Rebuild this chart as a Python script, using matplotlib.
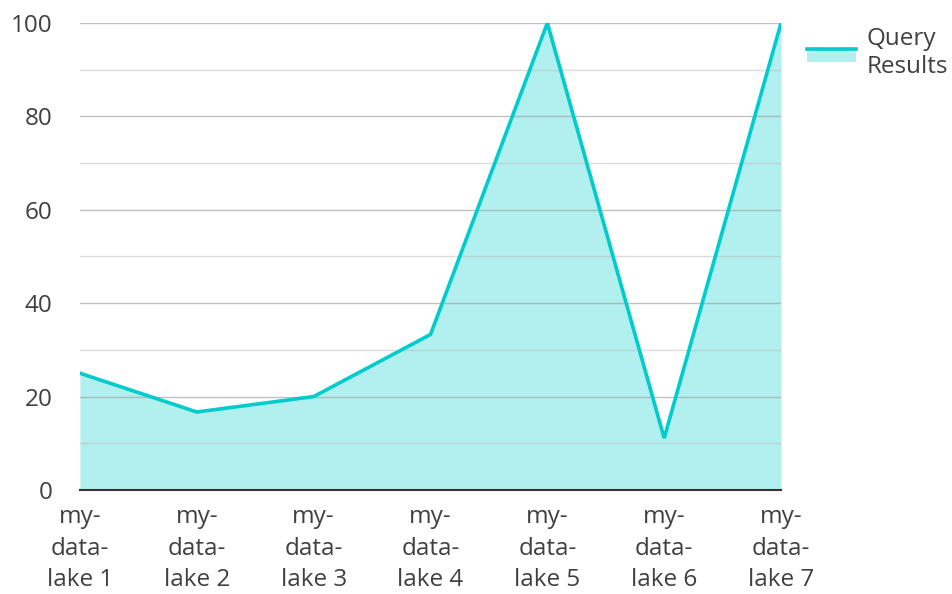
""" query results area chart """

import matplotlib
matplotlib.use("Agg")
import matplotlib.pyplot
import matplotlib.patches
import matplotlib.lines
import matplotlib.legend_handler

CATEGORIES = ["my-\ndata-\nlake 1", "my-\ndata-\nlake 2", "my-\ndata-\nlake 3", "my-\ndata-\nlake 4",
              "my-\ndata-\nlake 5", "my-\ndata-\nlake 6", "my-\ndata-\nlake 7"]
VALUES = [25, 16.7, 20, 33.3, 100, 11.1, 100]
YTICKS = [0, 20, 40, 60, 80, 100]

LINE = "#00cccc"
FILL = "#b2efef"
TEXT = "#404040"
FONTSIZE = 17.5


class AreaHandler(matplotlib.legend_handler.HandlerBase):
    # filled box with the line along its top edge
    def create_artists(self, legend, orig_handle, xdescent, ydescent, width, height, fontsize, trans):
        rect = matplotlib.patches.Rectangle((-xdescent, -ydescent), width, height * 0.75,
                                            facecolor=FILL, edgecolor="none", transform=trans)
        line = matplotlib.lines.Line2D([-xdescent, -xdescent + width], [height * 0.75 - ydescent] * 2,
                                       color=LINE, linewidth=2.6, transform=trans)
        return [rect, line]


def plot_query_results():
    matplotlib.pyplot.rcParams["font.family"] = ["Open Sans", "DejaVu Sans"]

    fig = matplotlib.pyplot.figure(figsize=(9.52, 5.94), dpi=100)
    ax = fig.add_axes([0.084, 0.1751, 0.7364, 0.7862])

    indexes = list(range(len(VALUES)))
    ax.fill_between(indexes, 0, VALUES, color=FILL, linewidth=0, zorder=1)
    ax.plot(indexes, VALUES, color=LINE, linewidth=2.6, zorder=3, solid_joinstyle="miter")

    ax.set_xlim(0, len(VALUES) - 1)
    ax.set_ylim(0, 100)
    ax.set_yticks(YTICKS)
    ax.set_yticks(range(10, 100, 20), minor=True)
    ax.set_axisbelow(False)
    ax.grid(axis="y", which="major", color="#999999", linewidth=1, alpha=0.6, zorder=2)
    ax.grid(axis="y", which="minor", color="#bbbbbb", linewidth=1, alpha=0.5, zorder=2)

    ax.set_xticks(indexes)
    ax.set_xticklabels(CATEGORIES, fontsize=FONTSIZE, color=TEXT, linespacing=1.42)
    ax.tick_params(axis="y", labelsize=FONTSIZE, labelcolor=TEXT, length=0, pad=20, which="both")
    ax.tick_params(axis="x", length=0, pad=11)

    for side in ["top", "right", "left"]:
        ax.spines[side].set_visible(False)
    ax.spines["bottom"].set_color("#333333")
    ax.spines["bottom"].set_linewidth(1.5)
    ax.spines["bottom"].set_zorder(4)

    handle = matplotlib.patches.Patch()
    ax.legend([handle], ["Query\nResults"], handler_map={matplotlib.patches.Patch: AreaHandler()},
              loc="upper left", bbox_to_anchor=(1.013, 1.027), frameon=False, fontsize=FONTSIZE,
              handlelength=2.0, handletextpad=0.45, labelcolor=TEXT, borderaxespad=0.3,
              labelspacing=0.6)

    matplotlib.pyplot.savefig("out.png", dpi=100)
    matplotlib.pyplot.close()


if __name__ == "__main__":
    plot_query_results()
